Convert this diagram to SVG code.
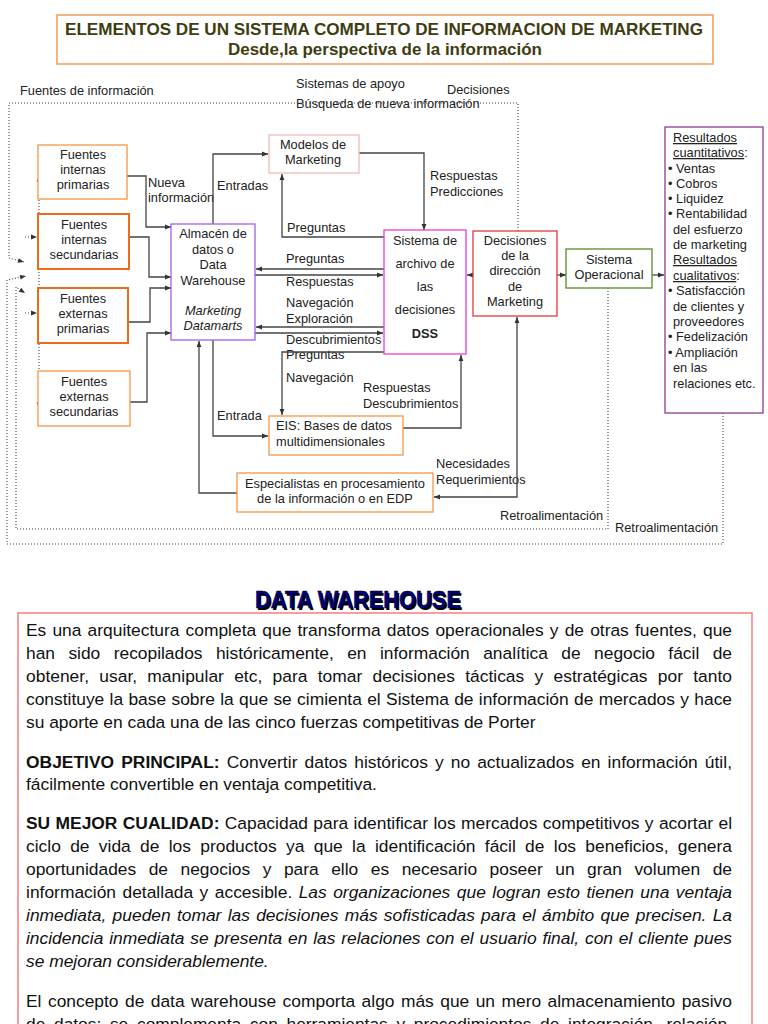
<svg xmlns="http://www.w3.org/2000/svg" width="768" height="1024" viewBox="0 0 768 1024">
<defs>
<marker id="a" viewBox="0 0 10 10" refX="10" refY="5" markerWidth="7" markerHeight="6" orient="auto-start-reverse" markerUnits="userSpaceOnUse"><path d="M0,1 L10,5 L0,9 z" fill="#333"/></marker>
<style>
.t{font-family:"Liberation Sans",Arial,sans-serif;font-size:12.8px;fill:#222}
.c{text-anchor:middle}
.box{fill:#fff;stroke-width:1.3}
.or{stroke:#f79646}
.or2{stroke:#ec6c1c;stroke-width:2}
.con{fill:none;stroke:#444;stroke-width:1.3}
.dot{fill:none;stroke:#444;stroke-width:1.1;stroke-dasharray:1 2}
.p{font-family:"Liberation Sans",Arial,sans-serif;font-size:17.4px;fill:#111}
</style>
</defs>
<rect width="768" height="1024" fill="#fff"/>

<g id="title">
<rect x="57" y="15" width="656" height="49" fill="#fff" stroke="#f59a5a" stroke-width="1.5"/>
<text x="384" y="35" text-anchor="middle" font-family="Liberation Sans,Arial,sans-serif" font-size="16.5" font-weight="bold" fill="#3d3d10" textLength="638" lengthAdjust="spacingAndGlyphs">ELEMENTOS DE UN SISTEMA COMPLETO DE INFORMACION DE MARKETING</text>
<text x="385" y="55" text-anchor="middle" font-family="Liberation Sans,Arial,sans-serif" font-size="16.5" font-weight="bold" fill="#3d3d10" textLength="314" lengthAdjust="spacingAndGlyphs">Desde,la perspectiva de la información</text>
</g>

<g id="labels" class="t">
<text x="20" y="95">Fuentes de información</text>
<text x="296" y="88">Sistemas de apoyo</text>
<text x="447" y="94">Decisiones</text>
<text x="296" y="108">Búsqueda de nueva información</text>
<text x="148" y="187">Nueva</text><text x="148" y="202">información</text>
<text x="217" y="190">Entradas</text>
<text x="430" y="180">Respuestas</text><text x="430" y="196">Predicciones</text>
<text x="287" y="232">Preguntas</text>
<text x="286" y="263">Preguntas</text>
<text x="286" y="286">Respuestas</text>
<text x="286" y="307">Navegación</text><text x="286" y="323">Exploración</text>
<text x="286" y="344">Descubrimientos</text>
<text x="286" y="359">Preguntas</text>
<text x="286" y="382">Navegación</text>
<text x="363" y="392">Respuestas</text><text x="363" y="408">Descubrimientos</text>
<text x="217" y="420">Entrada</text>
<text x="436" y="468">Necesidades</text><text x="436" y="484">Requerimientos</text>
<text x="500" y="520">Retroalimentación</text>
<text x="615" y="532">Retroalimentación</text>
</g>

<g id="connectors">
<path class="con" d="M127,176 H146 V227 H171" marker-end="url(#a)"/>
<path class="con" d="M129,237 H149 V277 H171" marker-end="url(#a)"/>
<path class="con" d="M128,322 H150 V288 H171" marker-end="url(#a)"/>
<path class="con" d="M130,402 H147 V333 H171" marker-end="url(#a)"/>
<path class="con" d="M213,224 V154 H268" marker-end="url(#a)"/>
<path class="con" d="M359,153 H424 V230" marker-end="url(#a)"/>
<path class="con" d="M384,237 H282 V174" marker-end="url(#a)"/>
<path class="con" d="M384,269 H256" marker-end="url(#a)"/>
<path class="con" d="M255,275 H383" marker-end="url(#a)"/>
<path class="con" d="M384,327 H256" marker-end="url(#a)"/>
<path class="con" d="M255,333 H383" marker-end="url(#a)"/>
<path class="con" d="M384,352 H282 V415" marker-end="url(#a)"/>
<path class="con" d="M403,428 H461 V355" marker-end="url(#a)"/>
<path class="con" d="M213,340 V436 H268" marker-end="url(#a)"/>
<path class="con" d="M237,493 H199 V341" marker-end="url(#a)"/>
<path class="con" d="M517,317 V497 H434" marker-start="url(#a)" marker-end="url(#a)"/>
<path class="con" d="M473,275 H467" marker-end="url(#a)"/>
<path class="con" d="M557,275 H566" marker-end="url(#a)"/>
<path class="con" d="M652,275 H664" marker-end="url(#a)"/>
<path class="dot" d="M518,231 V103 H9 V258 L24,262" marker-end="url(#a)"/>
<path class="dot" d="M723,413 V544 H7 V280 L26,276" marker-end="url(#a)"/>
<path class="dot" d="M608,288 V529 H16 V287 L25,293" marker-end="url(#a)"/>
<path class="dot" d="M39,176 V408" marker-start="url(#a)" marker-end="url(#a)"/>
<path class="dot" d="M25,237 H37" marker-end="url(#a)"/>
<path class="dot" d="M25,313 H37" marker-end="url(#a)"/>
</g>

<g id="fuentes-internas-primarias">
<rect class="box or" x="38" y="145" width="89" height="54"/>
<text class="t c" x="83" y="159">Fuentes</text><text class="t c" x="83" y="174">internas</text><text class="t c" x="83" y="189">primarias</text>
</g>
<g id="fuentes-internas-secundarias">
<rect class="box or2" x="38" y="214" width="91" height="55"/>
<text class="t c" x="84" y="229">Fuentes</text><text class="t c" x="84" y="244">internas</text><text class="t c" x="84" y="259">secundarias</text>
</g>
<g id="fuentes-externas-primarias">
<rect class="box or2" x="38" y="288" width="90" height="55"/>
<text class="t c" x="83" y="303">Fuentes</text><text class="t c" x="83" y="318">externas</text><text class="t c" x="83" y="333">primarias</text>
</g>
<g id="fuentes-externas-secundarias">
<rect class="box or" x="38" y="371" width="92" height="55"/>
<text class="t c" x="84" y="386">Fuentes</text><text class="t c" x="84" y="401">externas</text><text class="t c" x="84" y="416">secundarias</text>
</g>

<g id="almacen">
<rect class="box" x="171" y="224" width="84" height="116" stroke="#a35fe6"/>
<text class="t c" x="213" y="238">Almacén de</text>
<text class="t c" x="213" y="254">datos o</text>
<text class="t c" x="213" y="269">Data</text>
<text class="t c" x="213" y="285">Warehouse</text>
<text class="t c" x="213" y="315" font-style="italic">Marketing</text>
<text class="t c" x="213" y="330" font-style="italic">Datamarts</text>
</g>

<g id="modelos">
<rect class="box" x="269" y="135" width="90" height="38" stroke="#f2b8b8"/>
<text class="t c" x="313" y="149">Modelos de</text>
<text class="t c" x="313" y="164">Marketing</text>
</g>

<g id="dss">
<rect class="box" x="384" y="230" width="82" height="124" stroke="#e23ee2"/>
<text class="t c" x="425" y="245">Sistema de</text>
<text class="t c" x="425" y="268">archivo de</text>
<text class="t c" x="425" y="291">las</text>
<text class="t c" x="425" y="314">decisiones</text>
<text class="t c" x="425" y="338" font-weight="bold" font-size="13.5">DSS</text>
</g>

<g id="eis">
<rect class="box or" x="269" y="416" width="134" height="39"/>
<text class="t" x="276" y="430">EIS: Bases de datos</text>
<text class="t" x="276" y="446">multidimensionales</text>
</g>

<g id="especialistas">
<rect class="box or" x="237" y="473" width="196" height="39"/>
<text class="t c" x="335" y="488">Especialistas en procesamiento</text>
<text class="t c" x="335" y="503">de la información o en EDP</text>
</g>

<g id="decisiones">
<rect class="box" x="473" y="231" width="84" height="85" stroke="#e03a3a"/>
<text class="t c" x="515" y="245">Decisiones</text>
<text class="t c" x="515" y="260">de  la</text>
<text class="t c" x="515" y="275">dirección</text>
<text class="t c" x="515" y="291">de</text>
<text class="t c" x="515" y="306">Marketing</text>
</g>

<g id="sistema-operacional">
<rect class="box" x="566" y="249" width="86" height="39" stroke="#5a8a28"/>
<text class="t c" x="609" y="264">Sistema</text>
<text class="t c" x="609" y="279">Operacional</text>
</g>

<g id="resultados">
<rect class="box" x="665" y="127" width="98" height="286" stroke="#8e3a8e"/>
<g class="t">
<text x="673" y="142" text-decoration="underline">Resultados</text>
<text x="673" y="157"><tspan text-decoration="underline">cuantitativos</tspan>:</text>
<text x="668" y="173">• Ventas</text>
<text x="668" y="188">• Cobros</text>
<text x="668" y="203">• Liquidez</text>
<text x="668" y="218">• Rentabilidad</text>
<text x="673" y="234">del esfuerzo</text>
<text x="673" y="249">de marketing</text>
<text x="673" y="264" text-decoration="underline">Resultados</text>
<text x="673" y="280"><tspan text-decoration="underline">cualitativos</tspan>:</text>
<text x="668" y="295">• Satisfacción</text>
<text x="673" y="311">de clientes y</text>
<text x="673" y="326">proveedores</text>
<text x="668" y="341">• Fedelización</text>
<text x="668" y="357">• Ampliación</text>
<text x="673" y="372">en las</text>
<text x="673" y="388">relaciones etc.</text>
</g>
</g>

<g id="data-warehouse">
<text x="359.5" y="609.5" text-anchor="middle" font-family="Liberation Sans,Arial,sans-serif" font-size="24" font-weight="bold" fill="#000" textLength="206" lengthAdjust="spacingAndGlyphs">DATA WAREHOUSE</text>
<text x="358" y="608" text-anchor="middle" font-family="Liberation Sans,Arial,sans-serif" font-size="24" font-weight="bold" fill="#00008b" stroke="#000" stroke-width="0.6" textLength="206" lengthAdjust="spacingAndGlyphs">DATA WAREHOUSE</text>
<rect x="18" y="613" width="734" height="430" fill="none" stroke="#f08080" stroke-width="1.5"/>
<g class="p">
<text x="26" y="636" word-spacing="1.3" textLength="706" lengthAdjust="spacing">Es una arquitectura completa que transforma datos operacionales y de otras fuentes, que</text>
<text x="26" y="659" word-spacing="8.6" textLength="706" lengthAdjust="spacing">han sido recopilados históricamente, en información analítica de negocio fácil de</text>
<text x="26" y="682" word-spacing="5.4" textLength="706" lengthAdjust="spacing">obtener, usar, manipular etc, para tomar decisiones tácticas y estratégicas por tanto</text>
<text x="26" y="705" word-spacing="0.5" textLength="706" lengthAdjust="spacing">constituye la base sobre la que se cimienta el Sistema de información de mercados y hace</text>
<text x="26" y="728">su aporte en cada una de las cinco fuerzas competitivas de Porter</text>
<text x="26" y="768" word-spacing="2.2" textLength="706" lengthAdjust="spacing"><tspan font-weight="bold">OBJETIVO PRINCIPAL:</tspan> Convertir datos históricos y no actualizados en información útil,</text>
<text x="26" y="790">fácilmente convertible en ventaja competitiva.</text>
<text x="26" y="829" word-spacing="0.5" textLength="706" lengthAdjust="spacing"><tspan font-weight="bold">SU MEJOR CUALIDAD:</tspan> Capacidad para identificar los mercados competitivos y acortar el</text>
<text x="26" y="852" word-spacing="4.5" textLength="706" lengthAdjust="spacing">ciclo de vida de los productos ya que la identificación fácil de los beneficios, genera</text>
<text x="26" y="875" word-spacing="7.7" textLength="706" lengthAdjust="spacing">oportunidades de negocios y para ello es necesario poseer un gran volumen de</text>
<text x="26" y="898" word-spacing="1.6" textLength="706" lengthAdjust="spacing">información detallada y accesible. <tspan font-style="italic">Las organizaciones que logran esto tienen una ventaja</tspan></text>
<text x="26" y="921" word-spacing="1.4" textLength="706" lengthAdjust="spacing" font-style="italic">inmediata, pueden tomar las decisiones más sofisticadas para el ámbito que precisen. La</text>
<text x="26" y="944" word-spacing="1.0" textLength="706" lengthAdjust="spacing" font-style="italic">incidencia inmediata se presenta en las relaciones con el usuario final, con el cliente pues</text>
<text x="26" y="967" font-style="italic">se mejoran considerablemente.</text>
<text x="26" y="1007" word-spacing="1.6" textLength="706" lengthAdjust="spacing">El concepto de data warehouse comporta algo más que un mero almacenamiento pasivo</text>
<text x="26" y="1030" word-spacing="3.9" textLength="706" lengthAdjust="spacing">de datos; se complementa con herramientas y procedimientos de integración, relación,</text>
</g>
</g>
</svg>
